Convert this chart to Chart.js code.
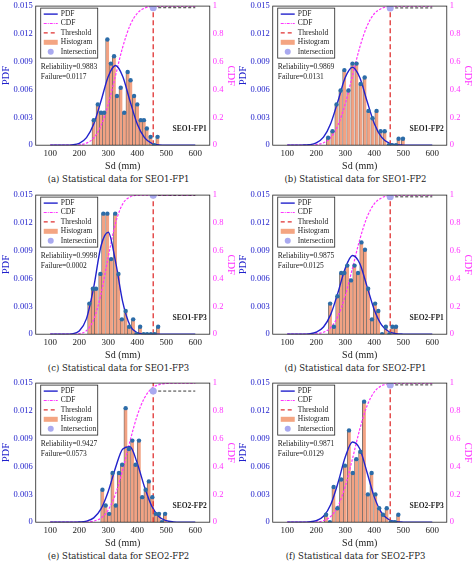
<!DOCTYPE html>
<html><head><meta charset="utf-8">
<script src="https://cdn.jsdelivr.net/npm/chart.js@4"></script>
<style>
body{margin:0;background:#fff;width:474px;height:566px;overflow:hidden;font-family:"Liberation Serif",serif}
.grid{display:grid;grid-template-columns:237px 237px;grid-auto-rows:188.6px}
.cell{position:relative}
.cell canvas{display:block}
.cap{position:absolute;left:0;width:237px;top:174px;text-align:center;font-size:8.5px;font-family:"DejaVu Serif",serif;color:#222}
</style></head><body>
<div class="grid" id="g"></div>
<script>
// fitted curves sampled every 25 mm
const gridX = [100,125,150,175,200,225,250,275,300,325,350,375,400,425,450,475,500,525,550,575,600];
const pdfA = [0,0,0.00001,0.00004,0.0002,0.00081,0.00228,0.00476,0.00742,0.0086,0.00742,0.00476,0.00228,0.00081,0.0002,0.00004,0,0,0,0,0];
const cdfA = [0,0,0,0,0.003,0.015,0.052,0.139,0.294,0.5,0.706,0.861,0.948,0.985,0.997,1,1,1,1,1,1];
const pdfB = [0,0,0.00001,0.00005,0.00024,0.00087,0.00235,0.00477,0.00729,0.0084,0.00729,0.00477,0.00235,0.00087,0.00024,0.00005,0.00001,0,0,0,0];
const cdfB = [0,0,0,0,0.004,0.017,0.055,0.144,0.297,0.5,0.703,0.856,0.945,0.983,0.996,0.999,1,1,1,1,1];
const pdfC = [0,0,0,0.00004,0.00034,0.00168,0.00508,0.00951,0.01099,0.00785,0.00345,0.00094,0.00016,0.00002,0,0,0,0,0,0,0];
const cdfC = [0,0,0,0,0.004,0.026,0.106,0.289,0.555,0.798,0.937,0.987,0.998,1,1,1,1,1,1,1,1];
const pdfD = [0,0,0,0.00004,0.00021,0.00077,0.00214,0.0045,0.00711,0.00848,0.00762,0.00516,0.00264,0.00101,0.00029,0.00006,0.00001,0,0,0,0];
const cdfD = [0,0,0,0,0.003,0.014,0.048,0.129,0.276,0.475,0.68,0.841,0.937,0.98,0.995,0.999,1,1,1,1,1];
const pdfE = [0,0,0,0,0.00002,0.00012,0.00047,0.00143,0.00332,0.00587,0.0079,0.00813,0.00636,0.0038,0.00173,0.0006,0.00016,0.00003,0,0,0];
const cdfE = [0,0,0,0,0,0.002,0.008,0.03,0.088,0.202,0.377,0.583,0.767,0.894,0.962,0.989,0.997,1,1,1,1];
const pdfF = [0,0,0,0.00003,0.00016,0.00064,0.00191,0.00425,0.00703,0.00865,0.00792,0.00539,0.00273,0.00104,0.00029,0.00006,0.00001,0,0,0,0];
const cdfF = [0,0,0,0,0.002,0.011,0.041,0.116,0.257,0.457,0.668,0.836,0.936,0.981,0.995,0.999,1,1,1,1,1];

// histogram bins (mm) and densities
const binA = [250,264,275,286,297,309,320,330,343,355,367,377,389,400,412,423,433,446,458,470];
const histA = [0.0027,0.0044,0.0035,0.0035,0.0114,0.0088,0.0096,0.0053,0.0062,0.0035,0.0079,0.0070,0.0053,0.0044,0.0027,0.0027,0.0018,0.0009,0,0.0009];
const binB = [241,256,270,284,297,311,325,339,353,367,380,394,408,422,436,450,461,475,484,499];
const histB = [0.0008,0.0015,0.0044,0.0059,0.0081,0.0059,0.0088,0.0088,0.0066,0.0073,0.0037,0.0029,0.0037,0.0015,0.0015,0,0,0,0.0007,0.0007];
const binC = [235,247,258,273,283,297,310,324,335,347,360,372,386,397,410,422,434,447,460,472];
const histC = [0.0033,0.0049,0.0049,0.0065,0.013,0.013,0.0081,0.013,0.0065,0.0016,0.0025,0.0008,0.0016,0,0.0008,0,0,0,0,0.0008];
const binD = [248,261,273,286,297,307,320,332,344,356,368,379,392,403,414,427,440,452,463,475];
const histD = [0.0033,0.0008,0.0041,0.0066,0.0066,0.0074,0.0058,0.0074,0.0066,0.0099,0.0091,0.0049,0.0016,0.0033,0.0025,0,0.0008,0,0.0008,0.0008];
const binE = [280,291,303,315,326,337,348,360,371,383,394,406,417,429,440,452,464,475,485,496];
const histE = [0.0035,0.0018,0.0009,0.0053,0.0018,0.0053,0.0062,0.0123,0.0079,0.0088,0.0062,0.0088,0.0027,0.0035,0.0044,0.0027,0.0009,0.0009,0,0.0009];
const binF = [234,247,260,273,286,299,313,326,338,352,365,378,391,404,417,430,443,457,471,483];
const histF = [0.0008,0,0.0038,0.0015,0.0046,0.0061,0.0099,0.0053,0.0068,0.0076,0.013,0.0030,0.0053,0.0030,0.0015,0.0008,0.0015,0,0,0.0008];

const threshold = 455;
const names = ['SEO1-FP1','SEO1-FP2','SEO1-FP3','SEO2-FP1','SEO2-FP2','SEO2-FP3'];
const letters = ['a','b','c','d','e','f'];
const reliability = [0.9883,0.9869,0.9998,0.9875,0.9427,0.9871];
const failure = [0.0117,0.0131,0.0002,0.0125,0.0573,0.0129];
const pdfs = [pdfA,pdfB,pdfC,pdfD,pdfE,pdfF];
const cdfs = [cdfA,cdfB,cdfC,cdfD,cdfE,cdfF];
const bins = [binA,binB,binC,binD,binE,binF];
const hists = [histA,histB,histC,histD,histE,histF];

const serif = '"Liberation Serif", serif';
const blue = '#2222cc', mag = '#ff33ff';

const overlay = {
  id: 'overlay',
  afterDraw(chart, args, o) {
    const c = chart.ctx, a = chart.chartArea;
    c.save();
    c.strokeStyle = '#222'; c.lineWidth = 0.8; c.setLineDash([]);
    c.strokeRect(a.left, a.top, a.right - a.left, a.bottom - a.top);
    const lx = a.left + 5, ly = a.top + 2, lw = 57, rh = 9.4;
    c.fillStyle = '#fff'; c.fillRect(lx, ly, lw, rh * 5 + 3);
    c.strokeRect(lx, ly, lw, rh * 5 + 3);
    c.font = '7.5px ' + serif; c.textBaseline = 'middle'; c.fillStyle = '#222';
    const items = ['PDF','CDF','Threshold','Histogram','Intersection'];
    items.forEach((t, i) => {
      const y = ly + 6 + i * rh, x0 = lx + 3, x1 = lx + 17;
      c.setLineDash([]);
      if (i === 0) { c.strokeStyle = blue; c.lineWidth = 1.4; c.beginPath(); c.moveTo(x0, y); c.lineTo(x1, y); c.stroke(); }
      if (i === 1) { c.strokeStyle = mag; c.lineWidth = 1; c.setLineDash([3,1,1,1]); c.beginPath(); c.moveTo(x0, y); c.lineTo(x1, y); c.stroke(); }
      if (i === 2) { c.strokeStyle = '#e03030'; c.lineWidth = 1.2; c.setLineDash([4,3]); c.beginPath(); c.moveTo(x0, y); c.lineTo(x1, y); c.stroke(); }
      if (i === 3) { c.fillStyle = '#f4a582'; c.fillRect(x0, y - 2.5, x1 - x0, 5); }
      if (i === 4) { c.fillStyle = '#a9a9f0'; c.beginPath(); c.arc((x0 + x1) / 2, y, 3, 0, 7); c.fill(); }
      c.fillStyle = '#222'; c.fillText(t, x1 + 3, y);
    });
    c.font = '7.5px ' + serif; c.textBaseline = 'alphabetic';
    c.fillText('Reliability=' + o.rel.toFixed(4), lx, ly + rh * 5 + 14);
    c.fillText('Failure=' + o.fail.toFixed(4), lx, ly + rh * 5 + 24);
    c.font = 'bold 7.5px ' + serif; c.textAlign = 'right';
    c.fillText(o.name, a.right - 3, a.bottom - 14);
    c.restore();
  }
};

pdfs.forEach((pdf, i) => {
  const cell = document.createElement('div'); cell.className = 'cell';
  const cv = document.createElement('canvas'); cv.width = 237; cv.height = 172;
  cell.appendChild(cv);
  const cap = document.createElement('div'); cap.className = 'cap';
  cap.textContent = '(' + letters[i] + ') Statistical data for ' + names[i];
  cell.appendChild(cap);
  document.getElementById('g').appendChild(cell);

  const rel = reliability[i];
  new Chart(cv, {
    data: {
      datasets: [
        { type: 'scatter', data: bins[i].map((x, k) => ({x, y: hists[i][k]})), yAxisID: 'y',
          pointRadius: 2.2, pointBackgroundColor: '#2c6ca8', pointBorderWidth: 0, order: 1 },
        { type: 'bar', data: bins[i].map((x, k) => ({x, y: hists[i][k]})), yAxisID: 'y',
          backgroundColor: '#f2a283', borderColor: '#666', borderWidth: {left: 0.8, right: 0, top: 0, bottom: 0},
          borderSkipped: false, barThickness: 3.5, order: 6 },
        { type: 'line', data: gridX.map((x, k) => ({x, y: pdf[k]})), yAxisID: 'y',
          borderColor: blue, borderWidth: 1.4, pointRadius: 0, cubicInterpolationMode: 'monotone', order: 3 },
        { type: 'line', data: gridX.map((x, k) => ({x, y: cdfs[i][k]})), yAxisID: 'y1',
          borderColor: mag, borderWidth: 1.2, borderDash: [2.5,1.5], pointRadius: 0, cubicInterpolationMode: 'monotone', order: 4 },
        { type: 'line', data: [{x: threshold, y: 0}, {x: threshold, y: 1}], yAxisID: 'y1',
          borderColor: '#e03030', borderWidth: 1.3, borderDash: [5,3], pointRadius: 0, order: 2 },
        { type: 'line', data: [{x: threshold, y: rel}, {x: 600, y: rel}], yAxisID: 'y1',
          borderColor: '#222', borderWidth: 0.9, borderDash: [3,2], pointRadius: 0, order: 2 },
        { type: 'scatter', data: [{x: threshold, y: rel}], yAxisID: 'y1',
          pointRadius: 3.5, pointBackgroundColor: '#a9a9f0', pointBorderWidth: 0, order: 0 }
      ]
    },
    options: {
      responsive: false, animation: false, events: [],
      layout: {padding: {top: 6, right: 0, left: 0}},
      plugins: { legend: {display: false}, tooltip: {enabled: false},
        overlay: {rel, fail: failure[i], name: names[i]} },
      scales: {
        x: { type: 'linear', min: 100, max: 600, grid: {display: false, tickLength: 2},
          border: {display: false},
          ticks: {stepSize: 100, color: '#222', font: {family: serif, size: 9}, padding: 1},
          title: {display: true, text: 'Sd (mm)', color: '#222', font: {family: serif, size: 10}, padding: 0} },
        y: { position: 'left', min: 0, max: 0.015, grid: {display: false, tickLength: 2}, border: {display: false},
          ticks: {stepSize: 0.003, color: blue, font: {family: serif, size: 8.5}, padding: 1,
            callback: v => v === 0 ? '0' : v.toFixed(3)},
          title: {display: true, text: 'PDF', color: blue, font: {family: serif, size: 10.5}, padding: 0} },
        y1: { position: 'right', min: 0, max: 1, grid: {display: false, tickLength: 2}, border: {display: false},
          ticks: {stepSize: 0.2, color: mag, font: {family: serif, size: 8.5}, padding: 1,
            callback: v => v === 0 || v === 1 ? String(v) : v.toFixed(1)},
          title: {display: true, text: 'CDF', color: mag, font: {family: serif, size: 10.5}, padding: 0} }
      }
    },
    plugins: [overlay]
  });
});
</script>
</body></html>
